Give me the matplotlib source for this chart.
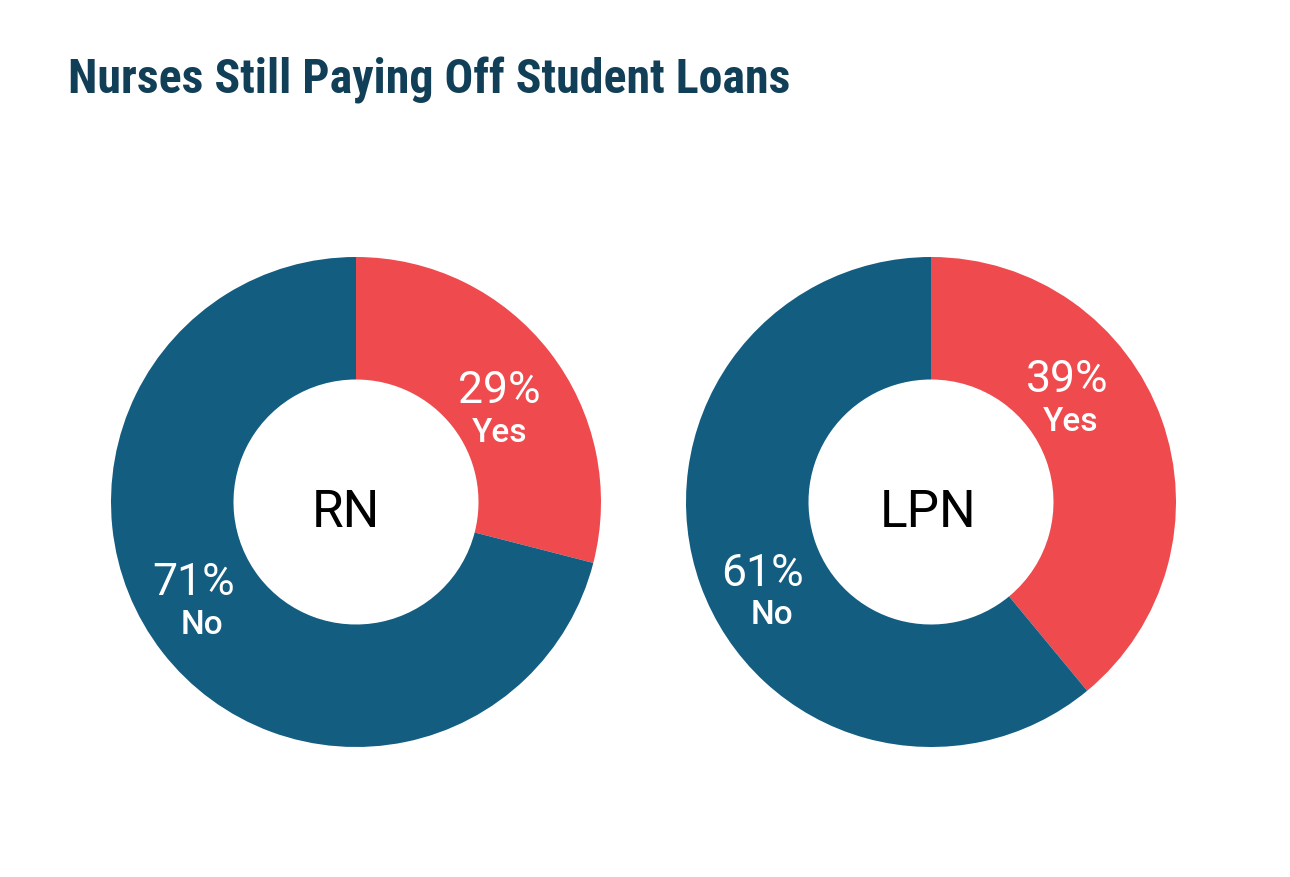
import matplotlib
matplotlib.use("Agg")
import matplotlib.pyplot as plt

# data
groups = ["RN", "LPN"]
answers = ["Yes", "No"]
rn_share = [29, 71]
lpn_share = [39, 61]
shares = [rn_share, lpn_share]

red = "#ef4a4d"
blue = "#135d81"
navy = "#113f58"

# label spots inside each donut (radius units), picked by eye
pct_pos = [
    [(0.584, 0.457), (-0.665, -0.327)],
    [(0.555, 0.502), (-0.686, -0.288)],
]
ans_pos = [
    [(0.584, 0.286), (-0.629, -0.498)],
    [(0.571, 0.331), (-0.649, -0.457)],
]
ctr_pos = [(-0.04, -0.04), (-0.012, -0.04)]

plt.rcParams["font.family"] = ["Roboto", "DejaVu Sans"]

W, H = 1290, 878
fig = plt.figure(figsize=(W / 100, H / 100), dpi=100)

boxes = [(111, 258), (686, 258)]
for i in range(2):
    x0, ytop = boxes[i]
    ax = fig.add_axes([x0 / W, (H - ytop - 490) / H, 490 / W, 490 / H])
    ax.pie(shares[i], colors=[red, blue], startangle=90, counterclock=False,
           radius=1, wedgeprops=dict(width=0.5, linewidth=0))
    ax.set_xlim(-1, 1)
    ax.set_ylim(-1, 1)
    ax.set_aspect("equal")
    ax.axis("off")
    for j in range(2):
        px, py = pct_pos[i][j]
        ax.text(px, py, f"{shares[i][j]}%", ha="center", va="center",
                fontsize=32, color="white")
        qx, qy = ans_pos[i][j]
        ax.text(qx, qy, answers[j], ha="center", va="center",
                fontsize=24, color="white", fontweight="medium")
    cx, cy = ctr_pos[i]
    ax.text(cx, cy, groups[i], ha="center", va="center", fontsize=37,
            color="black")

fig.text(68 / W, 1 - 94 / H, "Nurses Still Paying Off Student Loans",
         fontsize=34.5, fontweight="bold", color=navy, ha="left", va="baseline",
         family=["Roboto Condensed", "Roboto"], fontstretch="condensed")

fig.savefig("out.png", dpi=100)
